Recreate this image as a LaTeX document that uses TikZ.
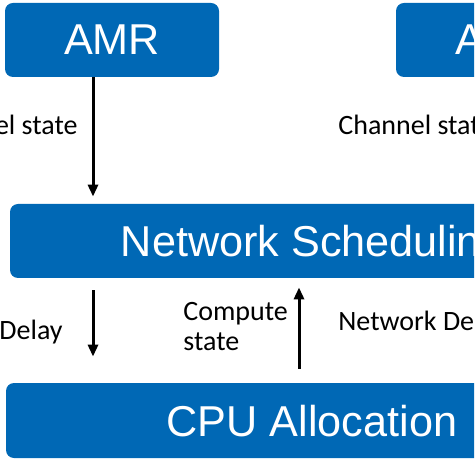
\documentclass[tikz,border=0pt]{standalone}
\usepackage{fontspec}
\newfontfamily\boxfont{Liberation Sans}
\newfontfamily\labfont{Carlito}
\usepackage{xcolor}
\definecolor{blockblue}{HTML}{0068B5}
\usepackage{tikz}
\usetikzlibrary{positioning, arrows.meta, calc}

\tikzset{
  block/.style={fill=blockblue, rounded corners=4pt, text=white, inner sep=0pt,
    text depth=0pt, font=\boxfont\fontsize{21.6}{24}\selectfont},
  flow/.style={line width=1.5pt, -{Triangle[length=6pt,width=5pt]}},
  lbl/.style={inner sep=0pt, font=\labfont\fontsize{14}{15}\selectfont, align=left}
}

\begin{document}
\begin{tikzpicture}[x=0.5pt, y=-0.5pt]
  \useasboundingbox (0,0) rectangle (474,474);
  \clip (0,0) rectangle (474,474);
  % blocks
  \node[block, minimum width=107pt, minimum height=37pt] (amrL) at (112,40) {AMR};
  \node[block, minimum width=107pt, minimum height=37pt] (amrR) at (503,40) {AMR};
  \node[block, minimum width=303pt, minimum height=37pt] (netsched) at (313,241) {Network Scheduling};
  \node[block, minimum width=306pt, minimum height=37.5pt] (cpualloc) at (312,420.5) {CPU Allocation};
  % arrows
  \coordinate (chanL) at (93,0);
  \coordinate (delayL) at (93,0);
  \coordinate (compute) at (299,0);
  \draw[flow, shorten >=3.5pt] (amrL.south -| chanL) -- (netsched.north -| chanL);
  \draw[flow, shorten <=6pt, shorten >=13pt] (netsched.south -| delayL) -- (cpualloc.north -| delayL);
  \draw[flow, shorten <=7pt, shorten >=4.5pt] (cpualloc.north -| compute) -- (netsched.south -| compute);
  % labels
  \node[lbl, anchor=east] (chanLtxt) at (78,125) {Channel state};
  \node[lbl, anchor=west] (chanRtxt) at (338,125) {Channel state};
  \node[lbl, anchor=east] (delayLtxt) at (63,332) {Network Delay};
  \node[lbl, anchor=west] (comptxt) at (183,327) {Compute\\state};
  \node[lbl, anchor=west] (delayRtxt) at (338,323) {Network Delay};
\end{tikzpicture}
\end{document}
